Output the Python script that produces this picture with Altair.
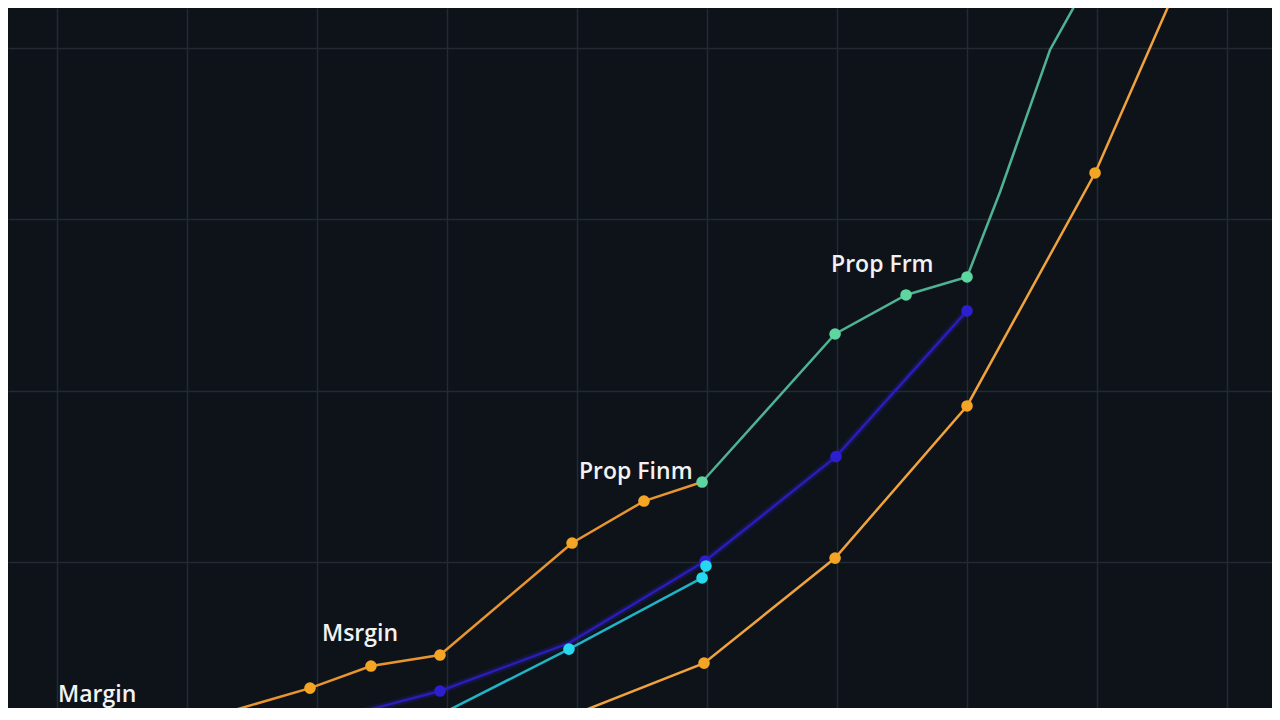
import altair as alt
import pandas as pd

# ---- data ----
upper_x = [2.10, 2.946, 3.415, 3.946, 4.962, 5.515, 5.962]
upper_y = [0.78, 2.64, 3.93, 4.57, 11.11, 13.56, 14.67]
upper_m = [0, 1, 1, 1, 1, 1, 0]

green_x = [5.962, 6.985, 7.531, 8.0, 8.254, 8.638, 8.946]
green_y = [14.67, 23.31, 25.59, 26.64, 31.6, 39.89, 44.09]
green_m = [1, 1, 1, 1, 0, 0, 0]

lower_x = [4.869, 5.977, 6.985, 8.0, 8.985, 9.638]
lower_y = [0.78, 4.10, 10.23, 19.11, 32.71, 44.0]
lower_m = [0, 1, 1, 1, 1, 0]

blue_x = [3.10, 3.946, 4.938, 5.985, 6.992, 8.0]
blue_y = [0.78, 2.47, 5.27, 10.06, 16.15, 24.66]
blue_m = [0, 1, 0, 1, 1, 1]

cyan_x = [3.908, 4.938, 5.962, 5.992]
cyan_y = [0.95, 4.92, 9.07, 9.77]
cyan_m = [1, 1, 1, 1]

label_text = ["Margin", "Msrgin", "Prop Finm", "Prop Frm"]
label_x = [1.008, 3.038, 5.015, 6.954]
label_y = [2.25, 5.80, 15.25, 27.31]

series_names = ["upper", "green", "lower", "blue", "cyan"]
line_colors = ["#e8952f", "#4fb393", "#f0a23c", "#2a1db8", "#1fb5c6"]
point_colors = ["#f5a524", "#5ed6a0", "#f5a524", "#2d1fd0", "#26d9f0"]

rows = []
for name, xs, ys, ms in [
    ("upper", upper_x, upper_y, upper_m),
    ("green", green_x, green_y, green_m),
    ("lower", lower_x, lower_y, lower_m),
    ("blue", blue_x, blue_y, blue_m),
    ("cyan", cyan_x, cyan_y, cyan_m),
]:
    for i, (x, y, m) in enumerate(zip(xs, ys, ms)):
        rows.append({"series": name, "x": x, "y": y, "marker": m, "order": i})
df = pd.DataFrame(rows)
labels = pd.DataFrame({"text": label_text, "x": label_x, "y": label_y})

xscale = alt.Scale(domain=[0.623, 10.346], nice=False, zero=False)
yscale = alt.Scale(domain=[1.48, 42.34], nice=False, zero=False)
xaxis = alt.Axis(values=list(range(1, 11)), grid=True, labels=False, ticks=False,
                 domain=False, title=None, gridColor="#232a34", gridWidth=1.5)
yaxis = alt.Axis(values=[10, 20, 30, 40], grid=True, labels=False, ticks=False,
                 domain=False, title=None, gridColor="#232a34", gridWidth=1.5)

X = alt.X("x:Q", scale=xscale, axis=xaxis)
Y = alt.Y("y:Q", scale=yscale, axis=yaxis)

glow = alt.Chart(df).transform_filter(alt.datum.series == "blue").mark_line(
    clip=True, strokeWidth=7, opacity=0.25, color="#2a1db8"
).encode(x=X, y=Y, order="order:Q")

lines = alt.Chart(df).mark_line(clip=True, strokeWidth=2.5).encode(
    x=X, y=Y,
    color=alt.Color("series:N", scale=alt.Scale(domain=series_names, range=line_colors), legend=None),
    detail="series:N",
    order="order:Q",
)

points = alt.Chart(df).transform_filter(alt.datum.marker == 1).mark_circle(
    clip=True, size=135, opacity=1
).encode(
    x=X, y=Y,
    color=alt.Color("series:N", scale=alt.Scale(domain=series_names, range=point_colors), legend=None),
)

text = alt.Chart(labels).mark_text(
    align="left", baseline="middle", font="Open Sans", fontSize=23, fontWeight=600, color="#f2f2f2"
).encode(x=X, y=Y, text="text:N")

chart = alt.layer(glow, lines, points, text).resolve_scale(color="independent").properties(
    width=1264, height=700,
    background="#0e131a",
    autosize=alt.AutoSizeParams(type="none"),
    padding=0,
).configure_view(stroke=None, fill="#0e131a")

chart.save("out.html", embed_options={"renderer": "svg", "actions": False})
